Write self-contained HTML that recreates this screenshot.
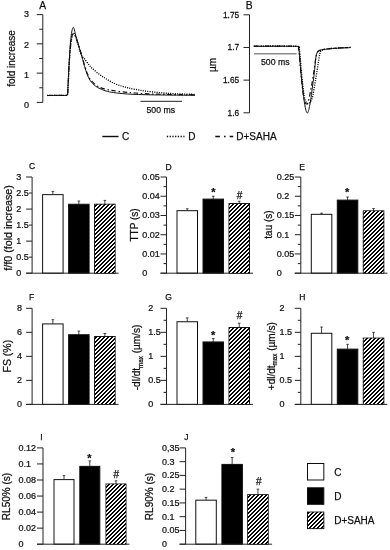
<!DOCTYPE html>
<html><head><meta charset="utf-8"><style>
html,body{margin:0;padding:0;background:#fff;}
svg{display:block;}
text{font-family:'Liberation Sans', Arial, sans-serif;fill:#111;stroke:#111;stroke-width:0.25px;}
</style></head><body>
<svg width="390" height="550" viewBox="0 0 390 550">
<defs>
<filter id="soft" x="0" y="0" width="390" height="550" filterUnits="userSpaceOnUse"><feGaussianBlur stdDeviation="0.35"/></filter>
<pattern id="hatch" patternUnits="userSpaceOnUse" width="4" height="4">
<rect width="4" height="4" fill="#fff"/>
<path d="M0,0h2v1h-2zM3,1h1v1h-1zM0,1h1v1h-1zM2,2h2v1h-2zM1,3h2v1h-2z" fill="#000" shape-rendering="crispEdges"/>
</pattern>
</defs>
<rect width="390" height="550" fill="#fff"/>
<g filter="url(#soft)">
<line x1="42.8" y1="14.6" x2="42.8" y2="102.4" stroke="#222" stroke-width="1" />
<line x1="36.8" y1="102.4" x2="42.8" y2="102.4" stroke="#222" stroke-width="1" />
<text transform="translate(29,108.25) scale(0.94,1)" font-size="9.6" text-anchor="end" >0</text>
<line x1="36.8" y1="73.13" x2="42.8" y2="73.13" stroke="#222" stroke-width="1" />
<text transform="translate(29,77.75) scale(0.94,1)" font-size="9.6" text-anchor="end" >1</text>
<line x1="36.8" y1="43.87" x2="42.8" y2="43.87" stroke="#222" stroke-width="1" />
<text transform="translate(29,47.75) scale(0.94,1)" font-size="9.6" text-anchor="end" >2</text>
<line x1="36.8" y1="14.6" x2="42.8" y2="14.6" stroke="#222" stroke-width="1" />
<text transform="translate(29,17.35) scale(0.94,1)" font-size="9.6" text-anchor="end" >3</text>
<line x1="39.3" y1="87.77" x2="42.8" y2="87.77" stroke="#222" stroke-width="1" />
<line x1="39.3" y1="58.5" x2="42.8" y2="58.5" stroke="#222" stroke-width="1" />
<line x1="39.3" y1="29.23" x2="42.8" y2="29.23" stroke="#222" stroke-width="1" />
<text x="39.2" y="8.9" font-size="10.3" text-anchor="start" >A</text>
<text transform="translate(15,58.5) rotate(-90)" font-size="10" text-anchor="middle">fold increase</text>
<path d="M47,95.6 C48.33,95.57 52.5,95.42 55,95.4 C57.5,95.38 60.02,95.5 62,95.5 C63.98,95.5 65.98,95.6 66.9,95.4 C67.82,95.2 67.33,95.53 67.5,94.3 C67.67,93.07 67.77,90.38 67.9,88 C68.03,85.62 68.13,83.5 68.3,80 C68.47,76.5 68.67,71.5 68.9,67 C69.13,62.5 69.43,57.17 69.7,53 C69.97,48.83 70.2,45.25 70.5,42 C70.8,38.75 71.2,35.63 71.5,33.5 C71.8,31.37 72.02,30.22 72.3,29.2 C72.58,28.18 72.9,27.5 73.2,27.4 C73.5,27.3 73.68,27.3 74.1,28.6 C74.52,29.9 75,32.62 75.7,35.2 C76.4,37.78 77.45,41.13 78.3,44.1 C79.15,47.07 80.07,50.42 80.8,53 C81.53,55.58 82.07,57.33 82.7,59.6 C83.33,61.87 83.85,64.13 84.6,66.6 C85.35,69.07 86.23,72.03 87.2,74.4 C88.17,76.77 89.02,78.85 90.4,80.8 C91.78,82.75 93.9,84.8 95.5,86.1 C97.1,87.4 98.25,87.78 100,88.6 C101.75,89.42 103.75,90.33 106,91 C108.25,91.67 110.33,92.13 113.5,92.6 C116.67,93.07 121.42,93.5 125,93.8 C128.58,94.1 130.83,94.23 135,94.4 C139.17,94.57 144.17,94.68 150,94.8 C155.83,94.92 162.5,95.02 170,95.1 C177.5,95.18 190.83,95.27 195,95.3" fill="none" stroke="#111" stroke-width="1"/>
<path d="M47,95.4 C48.33,95.38 52.5,95.32 55,95.3 C57.5,95.28 60,95.32 62,95.3 C64,95.28 66.07,95.42 67,95.2 C67.93,94.98 67.43,95.2 67.6,94 C67.77,92.8 67.87,90.33 68,88 C68.13,85.67 68.23,83.5 68.4,80 C68.57,76.5 68.75,71.33 69,67 C69.25,62.67 69.6,57.83 69.9,54 C70.2,50.17 70.48,46.75 70.8,44 C71.12,41.25 71.48,39.07 71.8,37.5 C72.12,35.93 72.4,35.27 72.7,34.6 C73,33.93 73.28,33.55 73.6,33.5 C73.92,33.45 74.23,33.63 74.6,34.3 C74.97,34.97 75.23,35.8 75.8,37.5 C76.37,39.2 77.3,42.25 78,44.5 C78.7,46.75 79.42,49.2 80,51 C80.58,52.8 81,54.25 81.5,55.3 C82,56.35 82.5,56.7 83,57.3 C83.5,57.9 83.7,57.88 84.5,58.9 C85.3,59.92 86.5,61.8 87.8,63.4 C89.1,65 90.27,66.6 92.3,68.5 C94.33,70.4 97.75,73.12 100,74.8 C102.25,76.48 103.63,77.27 105.8,78.6 C107.97,79.93 110.43,81.57 113,82.8 C115.57,84.03 118.7,85.17 121.2,86 C123.7,86.83 125.7,87.25 128,87.8 C130.3,88.35 132.17,88.77 135,89.3 C137.83,89.83 140.83,90.43 145,91 C149.17,91.57 155,92.25 160,92.7 C165,93.15 169.17,93.42 175,93.7 C180.83,93.98 191.67,94.28 195,94.4" fill="none" stroke="#000" stroke-width="1.3" stroke-dasharray="1.1,1.2"/>
<path d="M47,95.5 C48.33,95.47 52.5,95.32 55,95.3 C57.5,95.28 60,95.4 62,95.4 C64,95.4 66.07,95.52 67,95.3 C67.93,95.08 67.43,95.32 67.6,94.1 C67.77,92.88 67.87,90.35 68,88 C68.13,85.65 68.23,83.5 68.4,80 C68.57,76.5 68.77,71.33 69,67 C69.23,62.67 69.52,57.83 69.8,54 C70.08,50.17 70.38,46.83 70.7,44 C71.02,41.17 71.38,38.6 71.7,37 C72.02,35.4 72.3,34.98 72.6,34.4 C72.9,33.82 73.18,33.55 73.5,33.5 C73.82,33.45 74.15,33.58 74.5,34.1 C74.85,34.62 75.05,35.12 75.6,36.6 C76.15,38.08 76.93,40.38 77.8,43 C78.67,45.62 79.98,49.7 80.8,52.3 C81.62,54.9 82.07,56.38 82.7,58.6 C83.33,60.82 83.85,63.17 84.6,65.6 C85.35,68.03 86.23,70.87 87.2,73.2 C88.17,75.53 89.02,77.67 90.4,79.6 C91.78,81.53 93.9,83.5 95.5,84.8 C97.1,86.1 98.25,86.65 100,87.4 C101.75,88.15 103.75,88.75 106,89.3 C108.25,89.85 110.33,90.23 113.5,90.7 C116.67,91.17 121.42,91.72 125,92.1 C128.58,92.48 130.83,92.7 135,93 C139.17,93.3 144.17,93.65 150,93.9 C155.83,94.15 162.5,94.33 170,94.5 C177.5,94.67 190.83,94.83 195,94.9" fill="none" stroke="#111" stroke-width="1.2" stroke-dasharray="4.5,2.6,1.5,2.6"/>
<line x1="140.5" y1="101.3" x2="182" y2="101.3" stroke="#222" stroke-width="1" />
<text x="146.5" y="112.6" font-size="8.7" text-anchor="start" >500 ms</text>
<line x1="249.5" y1="14.8" x2="249.5" y2="112.8" stroke="#222" stroke-width="1" />
<line x1="243.5" y1="14.8" x2="249.5" y2="14.8" stroke="#222" stroke-width="1" />
<text transform="translate(239.2,17.6) scale(0.87,1)" font-size="9.6" text-anchor="end" >1.75</text>
<line x1="243.5" y1="47.47" x2="249.5" y2="47.47" stroke="#222" stroke-width="1" />
<text transform="translate(239.2,50.27) scale(0.87,1)" font-size="9.6" text-anchor="end" >1.7</text>
<line x1="243.5" y1="80.13" x2="249.5" y2="80.13" stroke="#222" stroke-width="1" />
<text transform="translate(239.2,82.93) scale(0.87,1)" font-size="9.6" text-anchor="end" >1.65</text>
<line x1="243.5" y1="112.8" x2="249.5" y2="112.8" stroke="#222" stroke-width="1" />
<text transform="translate(239.2,115.6) scale(0.87,1)" font-size="9.6" text-anchor="end" >1.6</text>
<text x="245.8" y="9" font-size="10.3" text-anchor="start" >B</text>
<text transform="translate(216.1,65) rotate(-90)" font-size="10" text-anchor="middle">&#181;m</text>
<line x1="254" y1="53.8" x2="296.5" y2="53.8" stroke="#8a8a8a" stroke-width="1.5" />
<text x="261" y="65.4" font-size="8.7" text-anchor="start" >500 ms</text>
<path d="M253.8,46.4 C258.17,46.38 272.72,46.28 280,46.3 C287.28,46.32 294.4,46.22 297.5,46.5 C300.6,46.78 298.28,46.75 298.6,48 C298.92,49.25 298.97,49.42 299.4,54 C299.83,58.58 300.5,68.38 301.2,75.5 C301.9,82.62 302.97,91.62 303.6,96.7 C304.23,101.78 304.57,103.58 305,106 C305.43,108.42 305.83,110.03 306.2,111.2 C306.57,112.37 306.85,112.93 307.2,113 C307.55,113.07 307.92,112.68 308.3,111.6 C308.68,110.52 309.1,108.43 309.5,106.5 C309.9,104.57 310.23,103.08 310.7,100 C311.17,96.92 311.75,92.08 312.3,88 C312.85,83.92 313.52,79.5 314,75.5 C314.48,71.5 314.83,67.33 315.2,64 C315.57,60.67 315.77,57.58 316.2,55.5 C316.63,53.42 317.17,52.38 317.8,51.5 C318.43,50.62 318.97,50.53 320,50.2 C321.03,49.87 322.33,49.73 324,49.5 C325.67,49.27 327.33,49.03 330,48.8 C332.67,48.57 336.58,48.3 340,48.1 C343.42,47.9 348.75,47.68 350.5,47.6" fill="none" stroke="#111" stroke-width="1"/>
<path d="M253.8,46.1 C258.17,46.08 272.63,45.95 280,46 C287.37,46.05 294.83,45.98 298,46.4 C301.17,46.82 298.67,47.15 299,48.5 C299.33,49.85 299.53,50 300,54.5 C300.47,59 301.1,68.58 301.8,75.5 C302.5,82.42 303.47,91.53 304.2,96 C304.93,100.47 305.52,101.03 306.2,102.3 C306.88,103.57 307.62,103.65 308.3,103.6 C308.98,103.55 309.72,102.77 310.3,102 C310.88,101.23 311.37,100.08 311.8,99 C312.23,97.92 312.42,97.83 312.9,95.5 C313.38,93.17 314.12,88.42 314.7,85 C315.28,81.58 315.82,78.58 316.4,75 C316.98,71.42 317.68,66.75 318.2,63.5 C318.72,60.25 319.07,57.58 319.5,55.5 C319.93,53.42 320.05,51.98 320.8,51 C321.55,50.02 322.47,50 324,49.6 C325.53,49.2 327.33,48.88 330,48.6 C332.67,48.32 336.58,48.1 340,47.9 C343.42,47.7 348.75,47.48 350.5,47.4" fill="none" stroke="#000" stroke-width="1.3" stroke-dasharray="1.1,1.2"/>
<path d="M253.8,46.2 C258.17,46.18 272.75,46.07 280,46.1 C287.25,46.13 294.22,46.08 297.3,46.4 C300.38,46.72 298.17,46.73 298.5,48 C298.83,49.27 298.87,49.42 299.3,54 C299.73,58.58 300.4,68.5 301.1,75.5 C301.8,82.5 302.82,91.5 303.5,96 C304.18,100.5 304.68,101.17 305.2,102.5 C305.72,103.83 306.13,104 306.6,104 C307.07,104 307.5,103.83 308,102.5 C308.5,101.17 309.02,98.75 309.6,96 C310.18,93.25 310.85,89.67 311.5,86 C312.15,82.33 312.88,78 313.5,74 C314.12,70 314.72,65.17 315.2,62 C315.68,58.83 315.93,56.75 316.4,55 C316.87,53.25 317.23,52.33 318,51.5 C318.77,50.67 319.67,50.42 321,50 C322.33,49.58 323.67,49.3 326,49 C328.33,48.7 330.92,48.48 335,48.2 C339.08,47.92 347.92,47.45 350.5,47.3" fill="none" stroke="#111" stroke-width="1.2" stroke-dasharray="4.5,2.6,1.5,2.6"/>
<line x1="102.3" y1="136.5" x2="118.5" y2="136.5" stroke="#111" stroke-width="1.4" />
<text x="122" y="140.4" font-size="10" text-anchor="start" >C</text>
<line x1="166.8" y1="136.5" x2="184.5" y2="136.5" stroke="#111" stroke-width="1.4" stroke-dasharray="1.3,1.45"/>
<text x="188.2" y="140.4" font-size="10" text-anchor="start" >D</text>
<line x1="215.3" y1="136.5" x2="233.2" y2="136.5" stroke="#111" stroke-width="1.5" stroke-dasharray="4.6,4.1,1.6,4.1"/>
<text x="236.3" y="140.4" font-size="10" text-anchor="start" >D+SAHA</text>
<line x1="52.85" y1="194.64" x2="52.85" y2="191.43" stroke="#333" stroke-width="0.9" />
<line x1="51.55" y1="191.43" x2="54.15" y2="191.43" stroke="#333" stroke-width="0.9" />
<rect x="42.6" y="194.64" width="20.5" height="78.56" fill="#fff" stroke="#111" stroke-width="1"/>
<line x1="78.85" y1="204.26" x2="78.85" y2="201.05" stroke="#333" stroke-width="0.9" />
<line x1="77.55" y1="201.05" x2="80.15" y2="201.05" stroke="#333" stroke-width="0.9" />
<rect x="68.6" y="204.26" width="20.5" height="68.94" fill="#000" stroke="#111" stroke-width="1"/>
<line x1="104.85" y1="204.26" x2="104.85" y2="200.41" stroke="#333" stroke-width="0.9" />
<line x1="103.55" y1="200.41" x2="106.15" y2="200.41" stroke="#333" stroke-width="0.9" />
<rect x="94.6" y="204.26" width="20.5" height="68.94" fill="url(#hatch)" stroke="#111" stroke-width="1"/>
<line x1="32.1" y1="177" x2="32.1" y2="273.2" stroke="#222" stroke-width="1" />
<line x1="26.1" y1="273.2" x2="118.6" y2="273.2" stroke="#222" stroke-width="1" />
<line x1="26.1" y1="273.2" x2="32.1" y2="273.2" stroke="#222" stroke-width="1" />
<line x1="26.1" y1="241.13" x2="32.1" y2="241.13" stroke="#222" stroke-width="1" />
<line x1="26.1" y1="209.07" x2="32.1" y2="209.07" stroke="#222" stroke-width="1" />
<line x1="26.1" y1="177" x2="32.1" y2="177" stroke="#222" stroke-width="1" />
<line x1="29.1" y1="257.17" x2="32.1" y2="257.17" stroke="#222" stroke-width="1" />
<line x1="29.1" y1="225.1" x2="32.1" y2="225.1" stroke="#222" stroke-width="1" />
<line x1="29.1" y1="193.03" x2="32.1" y2="193.03" stroke="#222" stroke-width="1" />
<text transform="translate(16.3,276.1) scale(0.94,1)" font-size="9.6" text-anchor="start" >0</text>
<text transform="translate(16.3,260.07) scale(0.94,1)" font-size="9.6" text-anchor="start" >0.5</text>
<text transform="translate(16.3,244.03) scale(0.94,1)" font-size="9.6" text-anchor="start" >1</text>
<text transform="translate(16.3,228) scale(0.94,1)" font-size="9.6" text-anchor="start" >1.5</text>
<text transform="translate(16.3,211.97) scale(0.94,1)" font-size="9.6" text-anchor="start" >2</text>
<text transform="translate(16.3,195.93) scale(0.94,1)" font-size="9.6" text-anchor="start" >2.5</text>
<text transform="translate(16.3,179.9) scale(0.94,1)" font-size="9.6" text-anchor="start" >3</text>
<text x="28.9" y="169.3" font-size="8.5" text-anchor="start" >C</text>
<text transform="translate(11.6,227.9) rotate(-90)" font-size="10.7" text-anchor="middle">f/f0 (fold increase)</text>
<line x1="187.25" y1="210.67" x2="187.25" y2="208.75" stroke="#333" stroke-width="0.9" />
<line x1="185.95" y1="208.75" x2="188.55" y2="208.75" stroke="#333" stroke-width="0.9" />
<rect x="177" y="210.67" width="20.5" height="62.53" fill="#fff" stroke="#111" stroke-width="1"/>
<line x1="213.25" y1="199.13" x2="213.25" y2="196.24" stroke="#333" stroke-width="0.9" />
<line x1="211.95" y1="196.24" x2="214.55" y2="196.24" stroke="#333" stroke-width="0.9" />
<rect x="203" y="199.13" width="20.5" height="74.07" fill="#000" stroke="#111" stroke-width="1"/>
<line x1="239.25" y1="203.55" x2="239.25" y2="201.24" stroke="#333" stroke-width="0.9" />
<line x1="237.95" y1="201.24" x2="240.55" y2="201.24" stroke="#333" stroke-width="0.9" />
<rect x="229" y="203.55" width="20.5" height="69.65" fill="url(#hatch)" stroke="#111" stroke-width="1"/>
<line x1="166.5" y1="177" x2="166.5" y2="273.2" stroke="#222" stroke-width="1" />
<line x1="160.5" y1="273.2" x2="253" y2="273.2" stroke="#222" stroke-width="1" />
<line x1="160.5" y1="273.2" x2="166.5" y2="273.2" stroke="#222" stroke-width="1" />
<line x1="160.5" y1="253.96" x2="166.5" y2="253.96" stroke="#222" stroke-width="1" />
<line x1="160.5" y1="234.72" x2="166.5" y2="234.72" stroke="#222" stroke-width="1" />
<line x1="160.5" y1="215.48" x2="166.5" y2="215.48" stroke="#222" stroke-width="1" />
<line x1="160.5" y1="196.24" x2="166.5" y2="196.24" stroke="#222" stroke-width="1" />
<line x1="160.5" y1="177" x2="166.5" y2="177" stroke="#222" stroke-width="1" />
<line x1="163.5" y1="263.58" x2="166.5" y2="263.58" stroke="#222" stroke-width="1" />
<line x1="163.5" y1="244.34" x2="166.5" y2="244.34" stroke="#222" stroke-width="1" />
<line x1="163.5" y1="225.1" x2="166.5" y2="225.1" stroke="#222" stroke-width="1" />
<line x1="163.5" y1="205.86" x2="166.5" y2="205.86" stroke="#222" stroke-width="1" />
<line x1="163.5" y1="186.62" x2="166.5" y2="186.62" stroke="#222" stroke-width="1" />
<text transform="translate(142.2,276.1) scale(0.94,1)" font-size="9.6" text-anchor="start" >0</text>
<text transform="translate(142.2,256.86) scale(0.94,1)" font-size="9.6" text-anchor="start" >0.01</text>
<text transform="translate(142.2,237.62) scale(0.94,1)" font-size="9.6" text-anchor="start" >0.02</text>
<text transform="translate(142.2,218.38) scale(0.94,1)" font-size="9.6" text-anchor="start" >0.03</text>
<text transform="translate(142.2,199.14) scale(0.94,1)" font-size="9.6" text-anchor="start" >0.04</text>
<text transform="translate(142.2,179.9) scale(0.94,1)" font-size="9.6" text-anchor="start" >0.05</text>
<text x="165.6" y="170.3" font-size="8.5" text-anchor="start" >D</text>
<text transform="translate(137.5,225) rotate(-90)" font-size="10" text-anchor="middle">TTP (s)</text>
<text x="213.4" y="195.9" font-size="11" text-anchor="middle" font-weight="bold">*</text>
<text x="239.6" y="199.2" font-size="10" text-anchor="middle" >#</text>
<line x1="321.55" y1="214.33" x2="321.55" y2="213.17" stroke="#333" stroke-width="0.9" />
<line x1="320.25" y1="213.17" x2="322.85" y2="213.17" stroke="#333" stroke-width="0.9" />
<rect x="311.3" y="214.33" width="20.5" height="58.87" fill="#fff" stroke="#111" stroke-width="1"/>
<line x1="347.55" y1="200.09" x2="347.55" y2="197.01" stroke="#333" stroke-width="0.9" />
<line x1="346.25" y1="197.01" x2="348.85" y2="197.01" stroke="#333" stroke-width="0.9" />
<rect x="337.3" y="200.09" width="20.5" height="73.11" fill="#000" stroke="#111" stroke-width="1"/>
<line x1="373.55" y1="210.86" x2="373.55" y2="208.55" stroke="#333" stroke-width="0.9" />
<line x1="372.25" y1="208.55" x2="374.85" y2="208.55" stroke="#333" stroke-width="0.9" />
<rect x="363.3" y="210.86" width="20.5" height="62.34" fill="url(#hatch)" stroke="#111" stroke-width="1"/>
<line x1="300.8" y1="177" x2="300.8" y2="273.2" stroke="#222" stroke-width="1" />
<line x1="294.8" y1="273.2" x2="387.3" y2="273.2" stroke="#222" stroke-width="1" />
<line x1="294.8" y1="273.2" x2="300.8" y2="273.2" stroke="#222" stroke-width="1" />
<line x1="294.8" y1="253.96" x2="300.8" y2="253.96" stroke="#222" stroke-width="1" />
<line x1="294.8" y1="234.72" x2="300.8" y2="234.72" stroke="#222" stroke-width="1" />
<line x1="294.8" y1="215.48" x2="300.8" y2="215.48" stroke="#222" stroke-width="1" />
<line x1="294.8" y1="196.24" x2="300.8" y2="196.24" stroke="#222" stroke-width="1" />
<line x1="294.8" y1="177" x2="300.8" y2="177" stroke="#222" stroke-width="1" />
<line x1="297.8" y1="263.58" x2="300.8" y2="263.58" stroke="#222" stroke-width="1" />
<line x1="297.8" y1="244.34" x2="300.8" y2="244.34" stroke="#222" stroke-width="1" />
<line x1="297.8" y1="225.1" x2="300.8" y2="225.1" stroke="#222" stroke-width="1" />
<line x1="297.8" y1="205.86" x2="300.8" y2="205.86" stroke="#222" stroke-width="1" />
<line x1="297.8" y1="186.62" x2="300.8" y2="186.62" stroke="#222" stroke-width="1" />
<text transform="translate(276.8,276.1) scale(0.94,1)" font-size="9.6" text-anchor="start" >0</text>
<text transform="translate(276.8,256.86) scale(0.94,1)" font-size="9.6" text-anchor="start" >0.05</text>
<text transform="translate(276.8,237.62) scale(0.94,1)" font-size="9.6" text-anchor="start" >0.1</text>
<text transform="translate(276.8,218.38) scale(0.94,1)" font-size="9.6" text-anchor="start" >0.15</text>
<text transform="translate(276.8,199.14) scale(0.94,1)" font-size="9.6" text-anchor="start" >0.2</text>
<text transform="translate(276.8,179.9) scale(0.94,1)" font-size="9.6" text-anchor="start" >0.25</text>
<text x="299.2" y="170.3" font-size="8.5" text-anchor="start" >E</text>
<text transform="translate(272.2,224.5) rotate(-90)" font-size="10" text-anchor="middle">tau (s)</text>
<text x="347.2" y="196.3" font-size="11" text-anchor="middle" font-weight="bold">*</text>
<line x1="52.85" y1="323.92" x2="52.85" y2="319.71" stroke="#333" stroke-width="0.9" />
<line x1="51.55" y1="319.71" x2="54.15" y2="319.71" stroke="#333" stroke-width="0.9" />
<rect x="42.6" y="323.92" width="20.5" height="80.48" fill="#fff" stroke="#111" stroke-width="1"/>
<line x1="78.85" y1="334.73" x2="78.85" y2="331.12" stroke="#333" stroke-width="0.9" />
<line x1="77.55" y1="331.12" x2="80.15" y2="331.12" stroke="#333" stroke-width="0.9" />
<rect x="68.6" y="334.73" width="20.5" height="69.67" fill="#000" stroke="#111" stroke-width="1"/>
<line x1="104.85" y1="336.53" x2="104.85" y2="333.53" stroke="#333" stroke-width="0.9" />
<line x1="103.55" y1="333.53" x2="106.15" y2="333.53" stroke="#333" stroke-width="0.9" />
<rect x="94.6" y="336.53" width="20.5" height="67.87" fill="url(#hatch)" stroke="#111" stroke-width="1"/>
<line x1="32.1" y1="308.3" x2="32.1" y2="404.4" stroke="#222" stroke-width="1" />
<line x1="26.1" y1="404.4" x2="118.6" y2="404.4" stroke="#222" stroke-width="1" />
<line x1="26.1" y1="404.4" x2="32.1" y2="404.4" stroke="#222" stroke-width="1" />
<line x1="26.1" y1="380.38" x2="32.1" y2="380.38" stroke="#222" stroke-width="1" />
<line x1="26.1" y1="356.35" x2="32.1" y2="356.35" stroke="#222" stroke-width="1" />
<line x1="26.1" y1="332.32" x2="32.1" y2="332.32" stroke="#222" stroke-width="1" />
<line x1="26.1" y1="308.3" x2="32.1" y2="308.3" stroke="#222" stroke-width="1" />
<text transform="translate(17,407.3) scale(0.94,1)" font-size="9.6" text-anchor="start" >0</text>
<text transform="translate(17,383.27) scale(0.94,1)" font-size="9.6" text-anchor="start" >2</text>
<text transform="translate(17,359.25) scale(0.94,1)" font-size="9.6" text-anchor="start" >4</text>
<text transform="translate(17,335.22) scale(0.94,1)" font-size="9.6" text-anchor="start" >6</text>
<text transform="translate(17,311.2) scale(0.94,1)" font-size="9.6" text-anchor="start" >8</text>
<text x="29" y="299.6" font-size="8.5" text-anchor="start" >F</text>
<text transform="translate(10.6,356.2) rotate(-90)" font-size="10.5" text-anchor="middle">FS (%)</text>
<line x1="187.25" y1="321.75" x2="187.25" y2="317.91" stroke="#333" stroke-width="0.9" />
<line x1="185.95" y1="317.91" x2="188.55" y2="317.91" stroke="#333" stroke-width="0.9" />
<rect x="177" y="321.75" width="20.5" height="82.65" fill="#fff" stroke="#111" stroke-width="1"/>
<line x1="213.25" y1="341.94" x2="213.25" y2="338.57" stroke="#333" stroke-width="0.9" />
<line x1="211.95" y1="338.57" x2="214.55" y2="338.57" stroke="#333" stroke-width="0.9" />
<rect x="203" y="341.94" width="20.5" height="62.46" fill="#000" stroke="#111" stroke-width="1"/>
<line x1="239.25" y1="327.52" x2="239.25" y2="323.2" stroke="#333" stroke-width="0.9" />
<line x1="237.95" y1="323.2" x2="240.55" y2="323.2" stroke="#333" stroke-width="0.9" />
<rect x="229" y="327.52" width="20.5" height="76.88" fill="url(#hatch)" stroke="#111" stroke-width="1"/>
<line x1="166.5" y1="308.3" x2="166.5" y2="404.4" stroke="#222" stroke-width="1" />
<line x1="160.5" y1="404.4" x2="253" y2="404.4" stroke="#222" stroke-width="1" />
<line x1="160.5" y1="404.4" x2="166.5" y2="404.4" stroke="#222" stroke-width="1" />
<line x1="160.5" y1="380.38" x2="166.5" y2="380.38" stroke="#222" stroke-width="1" />
<line x1="160.5" y1="356.35" x2="166.5" y2="356.35" stroke="#222" stroke-width="1" />
<line x1="160.5" y1="332.32" x2="166.5" y2="332.32" stroke="#222" stroke-width="1" />
<line x1="160.5" y1="308.3" x2="166.5" y2="308.3" stroke="#222" stroke-width="1" />
<line x1="163.5" y1="392.39" x2="166.5" y2="392.39" stroke="#222" stroke-width="1" />
<line x1="163.5" y1="368.36" x2="166.5" y2="368.36" stroke="#222" stroke-width="1" />
<line x1="163.5" y1="344.34" x2="166.5" y2="344.34" stroke="#222" stroke-width="1" />
<line x1="163.5" y1="320.31" x2="166.5" y2="320.31" stroke="#222" stroke-width="1" />
<text transform="translate(148.2,407.3) scale(0.94,1)" font-size="9.6" text-anchor="start" >0</text>
<text transform="translate(148.2,383.27) scale(0.94,1)" font-size="9.6" text-anchor="start" >0.5</text>
<text transform="translate(148.2,359.25) scale(0.94,1)" font-size="9.6" text-anchor="start" >1</text>
<text transform="translate(148.2,335.22) scale(0.94,1)" font-size="9.6" text-anchor="start" >1.5</text>
<text transform="translate(148.2,311.2) scale(0.94,1)" font-size="9.6" text-anchor="start" >2</text>
<text x="165.2" y="299.6" font-size="8.5" text-anchor="start" >G</text>
<text transform="translate(140.2,357.5) rotate(-90)" font-size="10" text-anchor="middle">-dl/dt<tspan font-size="6.3" dy="2.5">max</tspan><tspan dy="-2.5"> (&#181;m/s)</tspan></text>
<text x="213.2" y="338.7" font-size="11" text-anchor="middle" font-weight="bold">*</text>
<text x="239.5" y="319.3" font-size="10" text-anchor="middle" >#</text>
<line x1="321.55" y1="333.29" x2="321.55" y2="327.04" stroke="#333" stroke-width="0.9" />
<line x1="320.25" y1="327.04" x2="322.85" y2="327.04" stroke="#333" stroke-width="0.9" />
<rect x="311.3" y="333.29" width="20.5" height="71.11" fill="#fff" stroke="#111" stroke-width="1"/>
<line x1="347.55" y1="349.14" x2="347.55" y2="344.34" stroke="#333" stroke-width="0.9" />
<line x1="346.25" y1="344.34" x2="348.85" y2="344.34" stroke="#333" stroke-width="0.9" />
<rect x="337.3" y="349.14" width="20.5" height="55.26" fill="#000" stroke="#111" stroke-width="1"/>
<line x1="373.55" y1="338.09" x2="373.55" y2="332.32" stroke="#333" stroke-width="0.9" />
<line x1="372.25" y1="332.32" x2="374.85" y2="332.32" stroke="#333" stroke-width="0.9" />
<rect x="363.3" y="338.09" width="20.5" height="66.31" fill="url(#hatch)" stroke="#111" stroke-width="1"/>
<line x1="300.8" y1="308.3" x2="300.8" y2="404.4" stroke="#222" stroke-width="1" />
<line x1="294.8" y1="404.4" x2="387.3" y2="404.4" stroke="#222" stroke-width="1" />
<line x1="294.8" y1="404.4" x2="300.8" y2="404.4" stroke="#222" stroke-width="1" />
<line x1="294.8" y1="380.38" x2="300.8" y2="380.38" stroke="#222" stroke-width="1" />
<line x1="294.8" y1="356.35" x2="300.8" y2="356.35" stroke="#222" stroke-width="1" />
<line x1="294.8" y1="332.32" x2="300.8" y2="332.32" stroke="#222" stroke-width="1" />
<line x1="294.8" y1="308.3" x2="300.8" y2="308.3" stroke="#222" stroke-width="1" />
<line x1="297.8" y1="392.39" x2="300.8" y2="392.39" stroke="#222" stroke-width="1" />
<line x1="297.8" y1="368.36" x2="300.8" y2="368.36" stroke="#222" stroke-width="1" />
<line x1="297.8" y1="344.34" x2="300.8" y2="344.34" stroke="#222" stroke-width="1" />
<line x1="297.8" y1="320.31" x2="300.8" y2="320.31" stroke="#222" stroke-width="1" />
<text transform="translate(279.5,407.3) scale(0.94,1)" font-size="9.6" text-anchor="start" >0</text>
<text transform="translate(279.5,383.27) scale(0.94,1)" font-size="9.6" text-anchor="start" >0.5</text>
<text transform="translate(279.5,359.25) scale(0.94,1)" font-size="9.6" text-anchor="start" >1</text>
<text transform="translate(279.5,335.22) scale(0.94,1)" font-size="9.6" text-anchor="start" >1.5</text>
<text transform="translate(279.5,311.2) scale(0.94,1)" font-size="9.6" text-anchor="start" >2</text>
<text x="299.3" y="299.6" font-size="8.5" text-anchor="start" >H</text>
<text transform="translate(274.8,356.2) rotate(-90)" font-size="10" text-anchor="middle">+dl/dt<tspan font-size="6.3" dy="2.5">max</tspan><tspan dy="-2.5"> (&#181;m/s)</tspan></text>
<text x="347.2" y="343.5" font-size="11" text-anchor="middle" font-weight="bold">*</text>
<line x1="64" y1="479.6" x2="64" y2="475.59" stroke="#333" stroke-width="0.9" />
<line x1="62.7" y1="475.59" x2="65.3" y2="475.59" stroke="#333" stroke-width="0.9" />
<rect x="54" y="479.6" width="20" height="64.6" fill="#fff" stroke="#111" stroke-width="1"/>
<line x1="89.8" y1="466.36" x2="89.8" y2="460.9" stroke="#333" stroke-width="0.9" />
<line x1="88.5" y1="460.9" x2="91.1" y2="460.9" stroke="#333" stroke-width="0.9" />
<rect x="79.8" y="466.36" width="20" height="77.84" fill="#000" stroke="#111" stroke-width="1"/>
<line x1="116" y1="484.01" x2="116" y2="480.8" stroke="#333" stroke-width="0.9" />
<line x1="114.7" y1="480.8" x2="117.3" y2="480.8" stroke="#333" stroke-width="0.9" />
<rect x="106" y="484.01" width="20" height="60.19" fill="url(#hatch)" stroke="#111" stroke-width="1"/>
<line x1="43" y1="447.9" x2="43" y2="544.2" stroke="#222" stroke-width="1" />
<line x1="37" y1="544.2" x2="129.5" y2="544.2" stroke="#222" stroke-width="1" />
<line x1="37" y1="544.2" x2="43" y2="544.2" stroke="#222" stroke-width="1" />
<line x1="37" y1="528.15" x2="43" y2="528.15" stroke="#222" stroke-width="1" />
<line x1="37" y1="512.1" x2="43" y2="512.1" stroke="#222" stroke-width="1" />
<line x1="37" y1="496.05" x2="43" y2="496.05" stroke="#222" stroke-width="1" />
<line x1="37" y1="480" x2="43" y2="480" stroke="#222" stroke-width="1" />
<line x1="37" y1="463.95" x2="43" y2="463.95" stroke="#222" stroke-width="1" />
<line x1="37" y1="447.9" x2="43" y2="447.9" stroke="#222" stroke-width="1" />
<text transform="translate(18.6,547.1) scale(0.94,1)" font-size="9.6" text-anchor="start" >0</text>
<text transform="translate(18.6,531.05) scale(0.94,1)" font-size="9.6" text-anchor="start" >0.02</text>
<text transform="translate(18.6,515) scale(0.94,1)" font-size="9.6" text-anchor="start" >0.04</text>
<text transform="translate(18.6,498.95) scale(0.94,1)" font-size="9.6" text-anchor="start" >0.06</text>
<text transform="translate(18.6,482.9) scale(0.94,1)" font-size="9.6" text-anchor="start" >0.08</text>
<text transform="translate(18.6,466.85) scale(0.94,1)" font-size="9.6" text-anchor="start" >0.1</text>
<text transform="translate(18.6,450.8) scale(0.94,1)" font-size="9.6" text-anchor="start" >0.12</text>
<text x="40.2" y="440" font-size="8.5" text-anchor="start" >I</text>
<text transform="translate(9.6,496.5) rotate(-90)" font-size="10" text-anchor="middle">RL50% (s)</text>
<text x="89.3" y="461.8" font-size="11" text-anchor="middle" font-weight="bold">*</text>
<text x="116.3" y="477.7" font-size="10" text-anchor="middle" >#</text>
<line x1="206.05" y1="500.18" x2="206.05" y2="497.43" stroke="#333" stroke-width="0.9" />
<line x1="204.75" y1="497.43" x2="207.35" y2="497.43" stroke="#333" stroke-width="0.9" />
<rect x="195.8" y="500.18" width="20.5" height="44.02" fill="#fff" stroke="#111" stroke-width="1"/>
<line x1="232.15" y1="464.41" x2="232.15" y2="457.53" stroke="#333" stroke-width="0.9" />
<line x1="230.85" y1="457.53" x2="233.45" y2="457.53" stroke="#333" stroke-width="0.9" />
<rect x="221.9" y="464.41" width="20.5" height="79.79" fill="#000" stroke="#111" stroke-width="1"/>
<line x1="257.95" y1="494.67" x2="257.95" y2="489.17" stroke="#333" stroke-width="0.9" />
<line x1="256.65" y1="489.17" x2="259.25" y2="489.17" stroke="#333" stroke-width="0.9" />
<rect x="247.7" y="494.67" width="20.5" height="49.53" fill="url(#hatch)" stroke="#111" stroke-width="1"/>
<line x1="185.6" y1="447.9" x2="185.6" y2="544.2" stroke="#222" stroke-width="1" />
<line x1="179.6" y1="544.2" x2="272.1" y2="544.2" stroke="#222" stroke-width="1" />
<line x1="179.6" y1="544.2" x2="185.6" y2="544.2" stroke="#222" stroke-width="1" />
<line x1="179.6" y1="530.44" x2="185.6" y2="530.44" stroke="#222" stroke-width="1" />
<line x1="179.6" y1="516.69" x2="185.6" y2="516.69" stroke="#222" stroke-width="1" />
<line x1="179.6" y1="502.93" x2="185.6" y2="502.93" stroke="#222" stroke-width="1" />
<line x1="179.6" y1="489.17" x2="185.6" y2="489.17" stroke="#222" stroke-width="1" />
<line x1="179.6" y1="475.41" x2="185.6" y2="475.41" stroke="#222" stroke-width="1" />
<line x1="179.6" y1="461.66" x2="185.6" y2="461.66" stroke="#222" stroke-width="1" />
<line x1="179.6" y1="447.9" x2="185.6" y2="447.9" stroke="#222" stroke-width="1" />
<text transform="translate(162,547.1) scale(0.94,1)" font-size="9.6" text-anchor="start" >0</text>
<text transform="translate(162,533.34) scale(0.94,1)" font-size="9.6" text-anchor="start" >0.05</text>
<text transform="translate(162,519.59) scale(0.94,1)" font-size="9.6" text-anchor="start" >0.1</text>
<text transform="translate(162,505.83) scale(0.94,1)" font-size="9.6" text-anchor="start" >0.15</text>
<text transform="translate(162,492.07) scale(0.94,1)" font-size="9.6" text-anchor="start" >0.2</text>
<text transform="translate(162,478.31) scale(0.94,1)" font-size="9.6" text-anchor="start" >0.25</text>
<text transform="translate(162,464.56) scale(0.94,1)" font-size="9.6" text-anchor="start" >0.3</text>
<text transform="translate(162,450.8) scale(0.94,1)" font-size="9.6" text-anchor="start" >0,35</text>
<text x="184.2" y="440.4" font-size="8.5" text-anchor="start" >J</text>
<text transform="translate(152.6,496.5) rotate(-90)" font-size="10" text-anchor="middle">RL90% (s)</text>
<text x="232.8" y="456.3" font-size="11" text-anchor="middle" font-weight="bold">*</text>
<text x="258.9" y="484.8" font-size="10" text-anchor="middle" >#</text>
<rect x="307.5" y="463.5" width="16.3" height="16.5" fill="#fff" stroke="#111" stroke-width="1"/>
<text x="334.2" y="475.5" font-size="10" text-anchor="start" >C</text>
<rect x="307.5" y="487.8" width="16.3" height="16.5" fill="#000" stroke="#111" stroke-width="1"/>
<text x="334.2" y="499.8" font-size="10" text-anchor="start" >D</text>
<rect x="307.5" y="512.1" width="16.3" height="16.5" fill="url(#hatch)" stroke="#111" stroke-width="1"/>
<text x="334.2" y="524.1" font-size="10" text-anchor="start" >D+SAHA</text>
</g>
<rect x="95.1" y="204.76" width="19.5" height="67.94" fill="url(#hatch)"/>
<rect x="229.5" y="204.05" width="19.5" height="68.65" fill="url(#hatch)"/>
<rect x="363.8" y="211.36" width="19.5" height="61.34" fill="url(#hatch)"/>
<rect x="95.1" y="337.03" width="19.5" height="66.87" fill="url(#hatch)"/>
<rect x="229.5" y="328.02" width="19.5" height="75.88" fill="url(#hatch)"/>
<rect x="363.8" y="338.59" width="19.5" height="65.31" fill="url(#hatch)"/>
<rect x="106.5" y="484.51" width="19" height="59.19" fill="url(#hatch)"/>
<rect x="248.2" y="495.17" width="19.5" height="48.53" fill="url(#hatch)"/>
<rect x="308" y="512.6" width="15.3" height="15.5" fill="url(#hatch)"/>
</svg>
</body></html>
